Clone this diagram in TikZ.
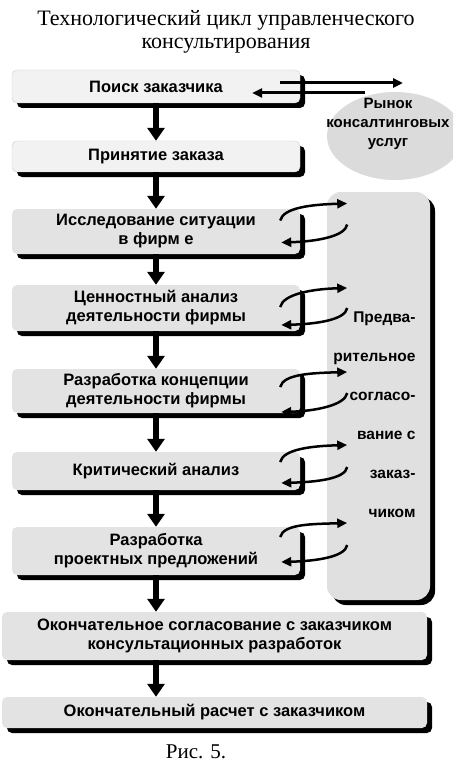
\documentclass[tikz,border=0pt]{standalone}
\usepackage{fontspec}
\setmainfont{Liberation Serif}
\setsansfont{Liberation Sans}
\usetikzlibrary{arrows.meta,calc,shadows,shapes.geometric}
\definecolor{stagegray}{gray}{0.89}
\definecolor{stagelight}{gray}{0.95}
\definecolor{stageedge}{gray}{0.80}
\definecolor{sidegray}{gray}{0.88}
\definecolor{marketgray}{gray}{0.86}
\begin{document}
\begin{tikzpicture}[x=1pt,y=-1pt,
  blackshadow/.style={drop shadow={shadow xshift=5pt,shadow yshift=-5pt,fill=black,opacity=1}},
  stage/.style={shape=rectangle,rounded corners=5pt,fill=stagegray,minimum width=288pt,inner sep=0pt,align=center,font=\sffamily\bfseries\fontsize{16.5}{19}\selectfont,blackshadow},
  stageL/.style={stage,fill=stagelight,draw=stageedge,thin},
  stageW/.style={stage,minimum width=425pt},
  flow/.style={line width=6pt,-{Triangle[width=17pt,length=13pt]}},
  talk/.style={line width=2.5pt,-{Triangle[width=9pt,length=10pt]}}]
\useasboundingbox (0,0) rectangle (453,770);
\clip (0,0) rectangle (453,770);

\node[align=center,font=\fontsize{22}{23}\selectfont] (title) at (226,31.5) {Технологический цикл управленческого\\консультирования};

\node[shape=ellipse,fill=marketgray,minimum width=136pt,minimum height=88pt,inner sep=0pt] (market) at (395,136) {};
\node[align=center,font=\sffamily\bfseries\fontsize{15}{19}\selectfont] (markettext) at (388,124) {Рынок\\консалтинговых\\услуг};

\node[shape=rectangle,rounded corners=14pt,fill=sidegray,minimum width=103pt,minimum height=408pt,blackshadow] (agree) at (378.5,396) {};
\node[align=right,anchor=east,font=\sffamily\bfseries\fontsize{15.5}{39}\selectfont] (agreetext) at (419,415) {Предва-\\рительное\\согласо-\\вание с\\заказ-\\чиком};

\node[stageL,minimum height=33pt] (find) at (156,86.5) {Поиск заказчика};
\node[stageL,minimum height=31pt] (accept) at (156,156.5) {Принятие заказа};
\node[stage,minimum height=45pt] (study) at (156,231.5) {Исследование ситуации\\в фирм е};
\node[stage,minimum height=46pt] (value) at (156,308) {Ценностный анализ\\деятельности фирмы};
\node[stage,minimum height=44pt] (concept) at (156,391) {Разработка концепции\\деятельности фирмы};
\node[stage,minimum height=38pt] (critic) at (156,471) {Критический анализ};
\node[stage,minimum height=48pt] (project) at (156,551) {Разработка\\проектных предложений};
\node[stageW,minimum height=48pt] (final) at (214.5,636) {Окончательное согласование с заказчиком\\консультационных разработок};
\node[stageW,minimum height=31pt] (payment) at (214.5,712.5) {Окончательный расчет с заказчиком};

\node[font=\fontsize{21}{23}\selectfont] (caption) at (196,752) {Рис. 5.};

\draw[flow] (find.south) -- (accept.north);
\draw[flow] (accept.south) -- (study.north);
\draw[flow] (study.south) -- (value.north);
\draw[flow] (value.south) -- (concept.north);
\draw[flow] (concept.south) -- (critic.north);
\draw[flow] (critic.south) -- (project.north);
\draw[flow] (project.south) -- ([xshift=-58.5pt]final.north);
\draw[flow] ([xshift=-58.5pt]final.south) -- ([xshift=-58.5pt]payment.north);

\coordinate (toMarket) at (403,83);
\coordinate (fromMarket) at (365,93);
\draw[talk,line width=3pt] ($(find.east)+(-20,-3.5)$) -- (toMarket);
\draw[talk,line width=3pt] (fromMarket) -- ($(find.east)+(-48,6.5)$);

\draw[talk] ($(study.east)+(-20,-11)$) .. controls +(3,-13) and +(-35,1) .. ($(study.east)+(47,-28)$);
\draw[talk] ($(study.east)+(47,-7)$) .. controls +(-2,12) and +(35,-1) .. ($(study.east)+(-19,11)$);

\draw[talk] ($(value.east)+(-20,-1)$) .. controls +(3,-13) and +(-35,1) .. ($(value.east)+(47,-20)$);
\draw[talk] ($(value.east)+(47,0)$) .. controls +(-2,12) and +(35,-1) .. ($(value.east)+(-19,17)$);

\draw[talk] ($(concept.east)+(-20,-4)$) .. controls +(3,-13) and +(-35,1) .. ($(concept.east)+(47,-19)$);
\draw[talk] ($(concept.east)+(47,2)$) .. controls +(-2,12) and +(35,-1) .. ($(concept.east)+(-19,21)$);

\draw[talk] ($(critic.east)+(-20,-9)$) .. controls +(3,-13) and +(-35,1) .. ($(critic.east)+(47,-26)$);
\draw[talk] ($(critic.east)+(47,-4)$) .. controls +(-2,12) and +(35,-1) .. ($(critic.east)+(-19,12)$);

\draw[talk] ($(project.east)+(-20,-14)$) .. controls +(3,-13) and +(-35,1) .. ($(project.east)+(47,-28)$);
\draw[talk] ($(project.east)+(47,-6)$) .. controls +(-2,12) and +(35,-1) .. ($(project.east)+(-19,11)$);
\end{tikzpicture}
\end{document}
